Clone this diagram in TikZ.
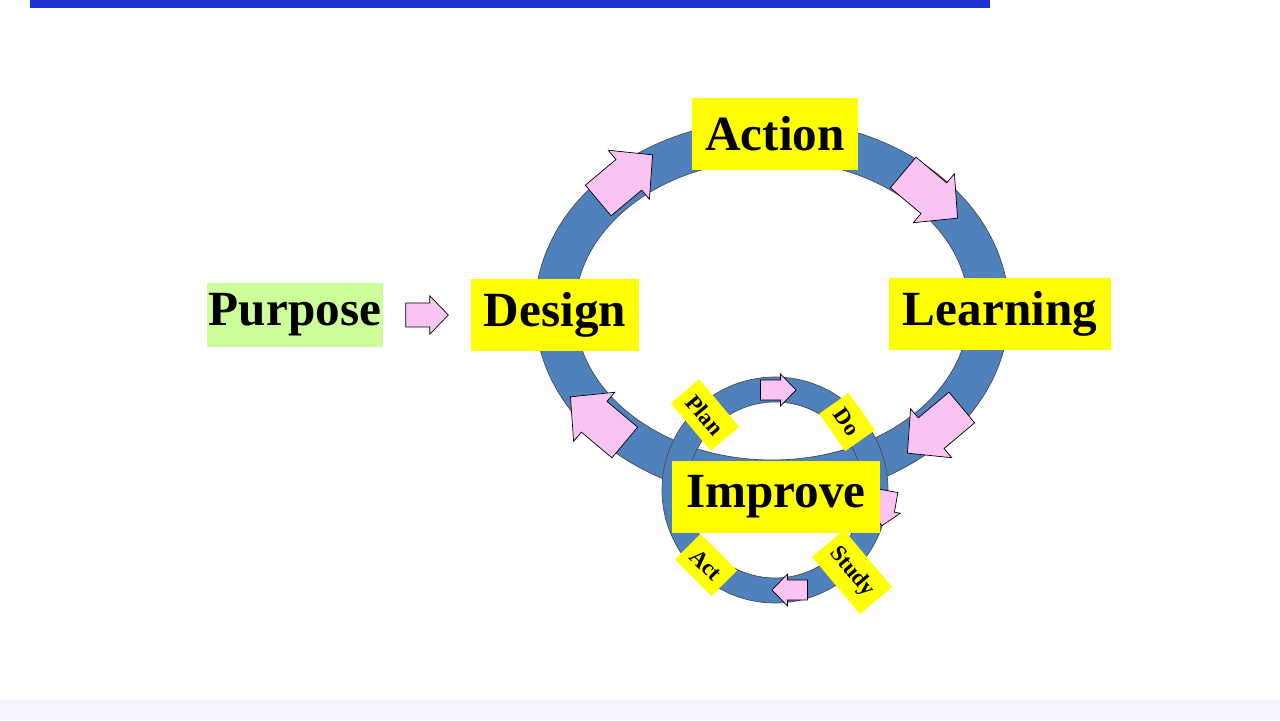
\documentclass[tikz,border=0pt]{standalone}
\usepackage{fontspec}
\setmainfont{Liberation Serif}
\usepackage{xcolor}
\usetikzlibrary{positioning, arrows.meta, calc}
\definecolor{ringblue}{HTML}{4F81BD}
\definecolor{arrowpink}{HTML}{F9C4F2}
\definecolor{boxyellow}{HTML}{FFFF00}
\definecolor{boxgreen}{HTML}{CCFF99}
\definecolor{barblue}{HTML}{1F2FD0}

\begin{document}
\begin{tikzpicture}[x=0.02cm, y=0.02cm,
  bigbox/.style={fill=boxyellow, font=\bfseries\fontsize{28}{30}\selectfont, inner sep=0pt},
  tagbox/.style={fill=boxyellow, font=\bfseries\fontsize{13}{14}\selectfont, inner xsep=5pt, inner ysep=6pt},
  ring/.style={fill=ringblue, draw=black!70, line width=0.4pt, even odd rule},
  blockarrow/.pic={
    \filldraw[fill=arrowpink, draw=black, line width=0.4pt]
      (-35,-20) -- (5,-20) -- (5,-32) -- (36,0) -- (5,32) -- (5,20) -- (-35,20) -- cycle;
  }]
  \useasboundingbox (0,0) rectangle (1280,720);
  \fill[white] (0,0) rectangle (1280,720);
  % top bar
  \fill[barblue] (30,712) rectangle (990,720);
  \fill[blue!4] (0,0) rectangle (1280,20);

  % big ring
  \coordinate (bigc) at (772,410);
  \draw[ring] (bigc) ellipse [x radius=237, y radius=190] (bigc) ellipse [x radius=197, y radius=150];
  \pic[rotate=40] at (625,542) {blockarrow};
  \pic[rotate=-40] at (930,525) {blockarrow};
  \pic[rotate=-140] at (935,290) {blockarrow};
  \pic[rotate=140] at (598,300) {blockarrow};

  % small ring
  \coordinate (smallc) at (775,230);
  \draw[ring] (smallc) circle [radius=113] (smallc) circle [radius=88];
  \pic[scale=0.5] at (778,330) {blockarrow};
  \pic[scale=0.5, rotate=180] at (790,130) {blockarrow};
  \pic[scale=0.5, rotate=-100] at (885,212) {blockarrow};

  % boxes
  \node[bigbox, fill=boxgreen, minimum width=100pt, minimum height=36pt] (purpose) at (295,405) {Purpose};
  \node[bigbox, minimum width=96pt, minimum height=41pt] (design) at (555,405) {Design};
  \node[bigbox, minimum width=95pt, minimum height=41pt] (action) at (775,586) {Action};
  \node[bigbox, minimum width=126pt, minimum height=41pt] (learning) at (1000,406) {Learning};
  \node[bigbox, minimum width=118pt, minimum height=41pt] (improve) at (776,223) {Improve};
  \pic[scale=0.6] at ($(purpose.east)!0.5!(design.west)$) {blockarrow};

  % small tags
  \node[tagbox, rotate=-50] (plan) at (705,305) {Plan};
  \node[tagbox, rotate=-55] (do) at (847,298) {Do};
  \node[tagbox, rotate=-45] (act) at (706,155) {Act};
  \node[tagbox, rotate=-50] (study) at (852,148) {Study};
\end{tikzpicture}
\end{document}
